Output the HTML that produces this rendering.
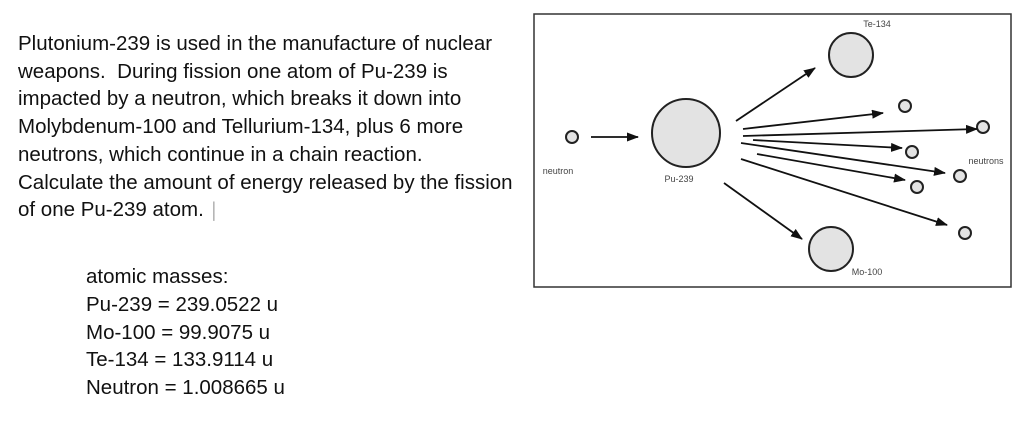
<!DOCTYPE html>
<html><head><style>
body{margin:0;width:1024px;height:447px;background:#fff;position:relative;overflow:hidden;font-family:"Liberation Sans",Arial,sans-serif;color:#111}
.t{position:absolute;left:18px;top:30px;font-size:20.5px;line-height:27.7px;white-space:nowrap}
.m{position:absolute;left:86px;top:263px;font-size:20.5px;line-height:27.8px;white-space:nowrap}
svg{position:absolute;left:0;top:0}
</style></head><body>
<div class="t">Plutonium-239 is used in the manufacture of nuclear<br>weapons.&nbsp; During fission one atom of Pu-239 is<br>impacted by a neutron, which breaks it down into<br>Molybdenum-100 and Tellurium-134, plus 6 more<br>neutrons, which continue in a chain reaction.<br>Calculate the amount of energy released by the fission<br>of one Pu-239 atom. <span style="color:#999;font-size:16px">&#x2502;</span></div>
<div class="m">atomic masses:<br>Pu-239 = 239.0522 u<br>Mo-100 = 99.9075 u<br>Te-134 = 133.9114 u<br>Neutron = 1.008665 u</div>
<svg width="1024" height="447" viewBox="0 0 1024 447">
<defs><marker id="a" markerWidth="12" markerHeight="9" refX="11" refY="4.5" orient="auto" markerUnits="userSpaceOnUse"><path d="M0,0L12,4.5L0,9z" fill="#111"/></marker></defs>
<rect x="534" y="14" width="477" height="273" fill="#fff" stroke="#333" stroke-width="1.5"/>
<g fill="#e3e3e3" stroke="#222" stroke-width="2">
<circle cx="686" cy="133" r="34"/><circle cx="851" cy="55" r="22"/><circle cx="831" cy="249" r="22"/>
<circle cx="572" cy="137" r="6"/><circle cx="905" cy="106" r="6"/><circle cx="983" cy="127" r="6"/><circle cx="912" cy="152" r="6"/><circle cx="960" cy="176" r="6"/><circle cx="917" cy="187" r="6"/><circle cx="965" cy="233" r="6"/>
</g>
<g stroke="#111" stroke-width="1.8" marker-end="url(#a)">
<line x1="591" y1="137" x2="638" y2="137"/>
<line x1="736" y1="121" x2="815" y2="68"/>
<line x1="743" y1="129" x2="883" y2="113"/>
<line x1="743" y1="136" x2="977" y2="129"/>
<line x1="753" y1="140" x2="902" y2="148"/>
<line x1="741" y1="143" x2="945" y2="173"/>
<line x1="757" y1="154" x2="905" y2="180"/>
<line x1="741" y1="159" x2="947" y2="225"/>
<line x1="724" y1="183" x2="802" y2="239"/>
</g>
<g font-size="9" fill="#444" font-family="Liberation Sans,Arial,sans-serif" text-anchor="middle">
<text x="877" y="27">Te-134</text><text x="558" y="174">neutron</text><text x="679" y="182">Pu-239</text><text x="986" y="164">neutrons</text><text x="867" y="275">Mo-100</text>
</g>
</svg>
</body></html>
